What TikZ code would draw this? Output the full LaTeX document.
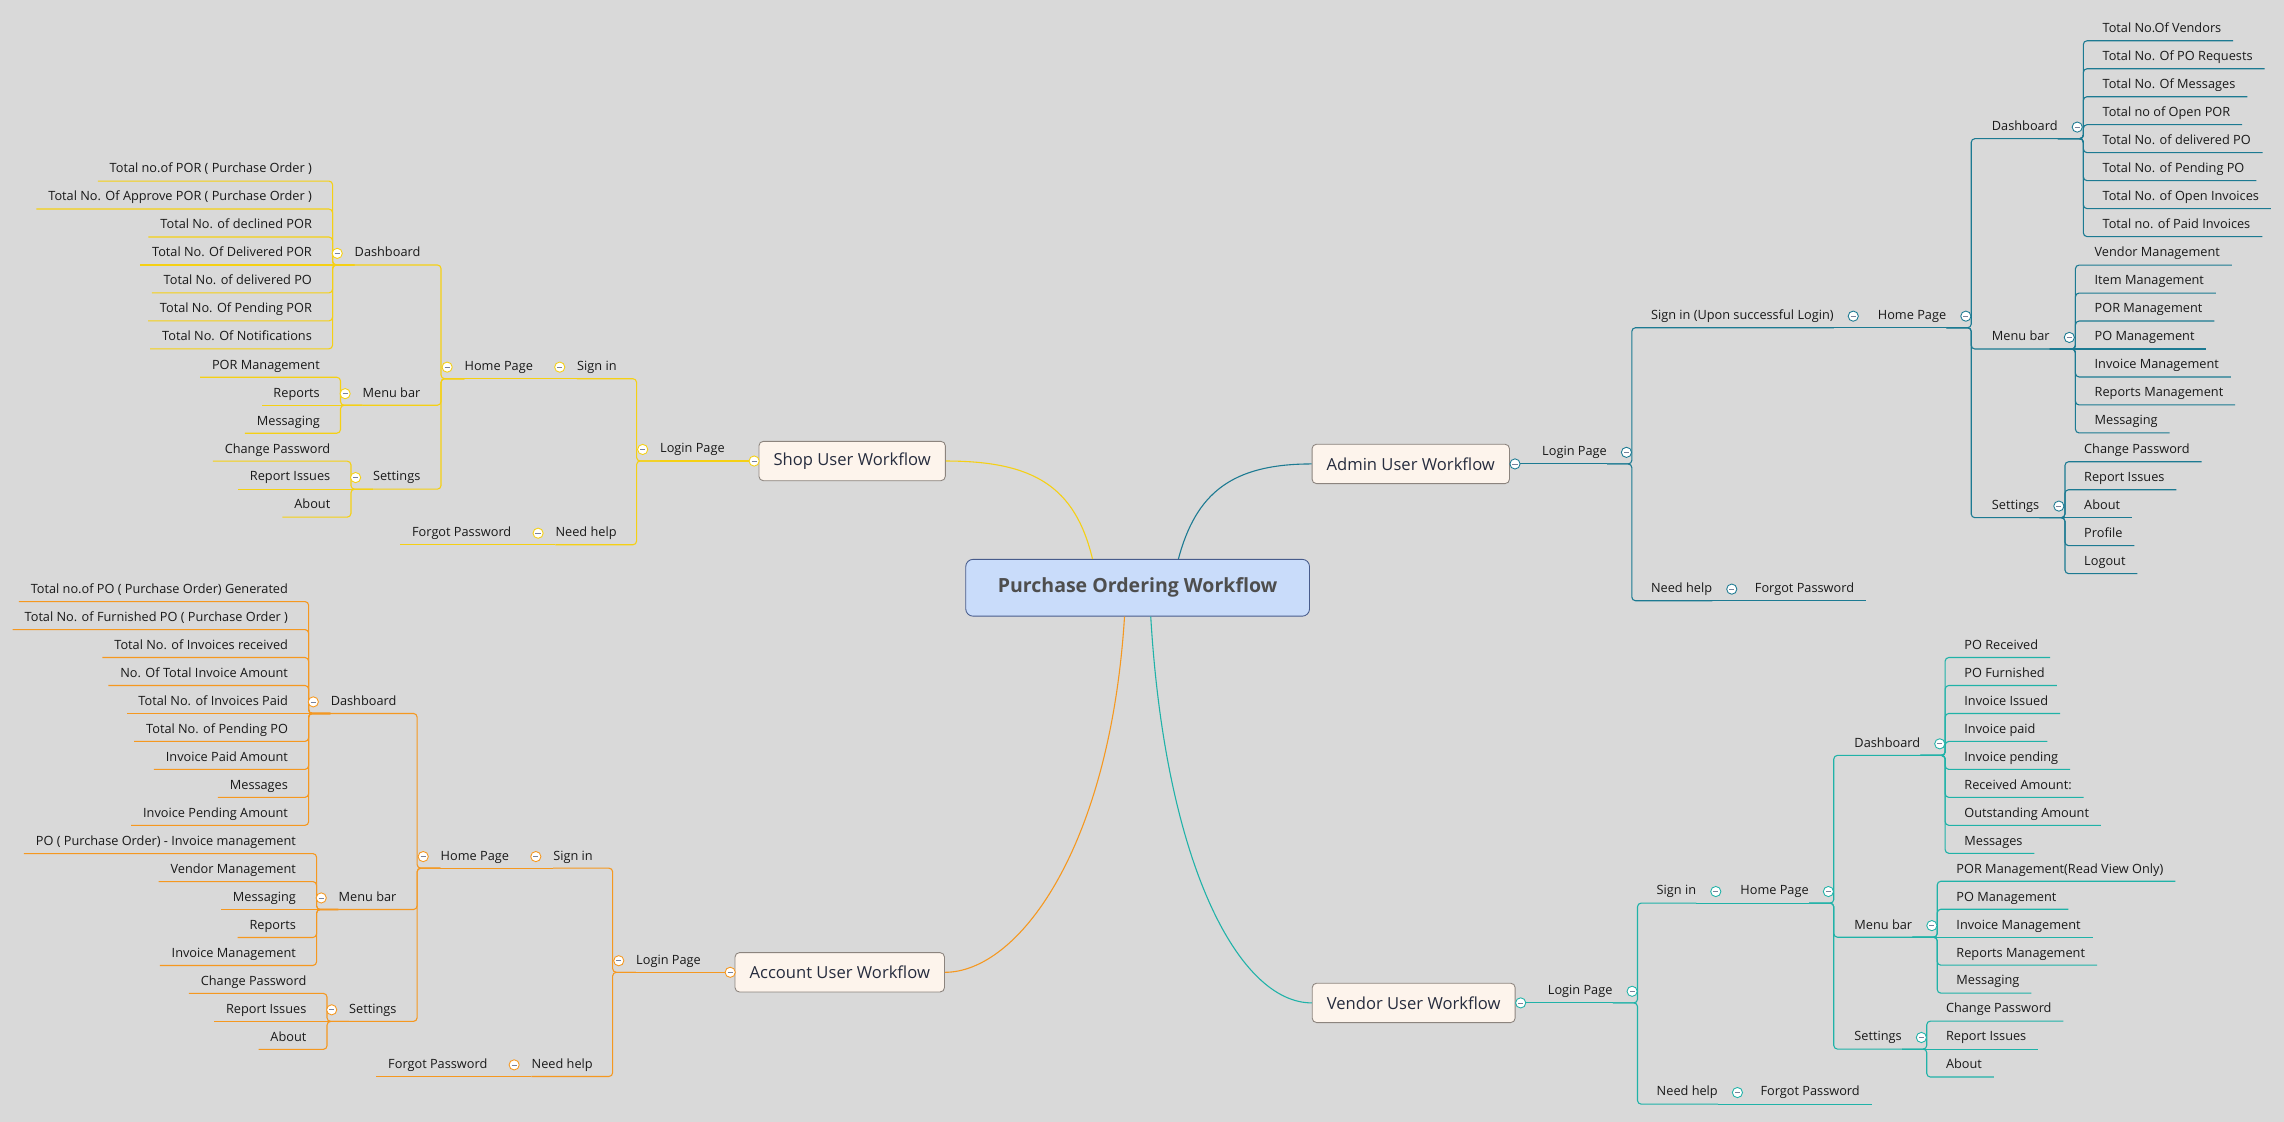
\documentclass[tikz,border=0pt]{standalone}
\usepackage{fontspec}
\setmainfont{Open Sans}
\usepackage{tikz}
\usetikzlibrary{positioning}
\definecolor{bg_gray}{RGB}{217,217,217}
\definecolor{root_fill}{RGB}{201,220,250}
\definecolor{root_line}{RGB}{72,92,140}
\definecolor{root_text}{RGB}{78,78,78}
\definecolor{box_fill}{RGB}{253,244,236}
\definecolor{box_line}{RGB}{140,132,126}
\definecolor{box_text}{RGB}{38,44,62}
\definecolor{topic_text}{RGB}{25,25,25}
\definecolor{shop_gold}{RGB}{245,208,20}
\definecolor{account_orange}{RGB}{245,152,32}
\definecolor{admin_teal}{RGB}{28,122,146}
\definecolor{vendor_teal}{RGB}{32,178,168}
\definecolor{knob_dash}{RGB}{120,130,155}
\tikzstyle{root} = [rectangle, rounded corners=5pt, minimum width=236pt, minimum height=39pt,
                    draw=root_line, fill=root_fill, line width=0.6pt, text=root_text,
                    font=\fontsize{13.4}{16}\selectfont\bfseries]
\tikzstyle{userbox} = [rectangle, rounded corners=3pt, minimum height=27pt, inner xsep=10pt,
                    draw=box_line, fill=box_fill, line width=0.6pt, text=box_text,
                    font=\fontsize{11.4}{14}\selectfont]
\tikzstyle{topic} = [inner xsep=0pt, inner ysep=3.5pt, text height=6.6pt, text depth=1.9pt,
                    text=topic_text, font=\fontsize{8.75}{10}\selectfont]
\tikzstyle{topicr} = [topic, anchor=south west]
\tikzstyle{topicl} = [topic, anchor=south east]
\tikzstyle{leafr} = [topic, anchor=south west, inner xsep=8pt, xshift=5pt]
\tikzstyle{leafl} = [topic, anchor=south east, inner xsep=8pt, xshift=-6pt]
\tikzstyle{knob} = [circle, minimum size=7pt, inner sep=0pt, fill=white, line width=0.6pt,
                    path picture={\draw[knob_dash, line width=0.5pt]
                    ([xshift=-1.8pt]path picture bounding box.center) -- ([xshift=1.8pt]path picture bounding box.center);}]
\tikzstyle{shopknob} = [knob, draw=shop_gold]
\tikzstyle{accknob} = [knob, draw=account_orange]
\tikzstyle{admknob} = [knob, draw=admin_teal]
\tikzstyle{venknob} = [knob, draw=vendor_teal]
\tikzstyle{shopline} = [shop_gold, line width=0.75pt, rounded corners=2.5pt]
\tikzstyle{accline} = [account_orange, line width=0.75pt, rounded corners=2.5pt]
\tikzstyle{admline} = [admin_teal, line width=0.75pt, rounded corners=2.5pt]
\tikzstyle{venline} = [vendor_teal, line width=0.75pt, rounded corners=2.5pt]

\begin{document}
\begin{tikzpicture}[x=1pt, y=-1pt]

    \useasboundingbox[fill=bg_gray] (0,0) rectangle (1568,770);

    % centre and the four workflows
    \node[root] (root) at (781,403.5) {Purchase Ordering Workflow};
    \node[userbox] (shop) at (585,316.5) {Shop User Workflow};
    \node[userbox] (admin) at (968.5,318.5) {Admin User Workflow};
    \node[userbox] (account) at (576.5,667.5) {Account User Workflow};
    \node[userbox] (vendor) at (970.5,688.5) {Vendor User Workflow};

    \draw[shopline] ([xshift=-31pt]root.north) .. controls +(-12,-50) and +(60,0) .. (shop.east);
    \draw[admline] ([xshift=28pt]root.north) .. controls +(12,-45) and +(-55,0) .. (admin.west);
    \draw[accline] ([xshift=-9pt]root.south) .. controls +(-10,160) and +(50,0) .. (account.east);
    \draw[venline] ([xshift=9pt]root.south) .. controls +(10,170) and +(-50,0) .. (vendor.west);

    % shop user workflow
    \node[topicl] (loginS) at ([xshift=-23pt]shop.west) {Login Page};
    \coordinate (loginSj) at ([xshift=-16pt]loginS.south west);
    \node[topicl, xshift=-13.5pt] (signS) at (loginSj |- 0,260) {Sign in};
    \node[topicl] (homeS) at ([xshift=-30pt]signS.south west) {Home Page};
    \coordinate (homeSj) at ([xshift=-16pt]homeS.south west);
    \node[topicl, xshift=-13.5pt] (needS) at (loginSj |- 0,374) {Need help};
    \node[leafl] (forgotS) at ([xshift=-16pt]needS.south west) {Forgot Password};
    \node[topicl, xshift=-14pt] (dashS) at (homeSj |- 0,181.9) {Dashboard};
    \node[topicl, xshift=-14pt] (menuS) at (homeSj |- 0,278.2) {Menu bar};
    \node[topicl, xshift=-14pt] (setS) at (homeSj |- 0,335.8) {Settings};
    \coordinate (dashSj) at ([xshift=-15pt]dashS.south west);
    \coordinate (menuSj) at ([xshift=-15pt]menuS.south west);
    \coordinate (setSj) at ([xshift=-15pt]setS.south west);

    \node[leafl] (dashS1) at (dashSj |- 0,124.3) {Total no.of POR ( Purchase Order )};
    \node[leafl] (dashS2) at (dashSj |- 0,143.5) {Total No. Of Approve POR ( Purchase Order )};
    \node[leafl] (dashS3) at (dashSj |- 0,162.7) {Total No. of declined POR};
    \node[leafl] (dashS4) at (dashSj |- 0,181.9) {Total No. Of Delivered POR};
    \node[leafl] (dashS5) at (dashSj |- 0,201.1) {Total No. of delivered PO};
    \node[leafl] (dashS6) at (dashSj |- 0,220.3) {Total No. Of Pending POR};
    \node[leafl] (dashS7) at (dashSj |- 0,239.5) {Total No. Of Notifications};
    \node[leafl] (menuS1) at (menuSj |- 0,259) {POR Management};
    \node[leafl] (menuS2) at (menuSj |- 0,278.2) {Reports};
    \node[leafl] (menuS3) at (menuSj |- 0,297.4) {Messaging};
    \node[leafl] (setS1) at (setSj |- 0,316.6) {Change Password};
    \node[leafl] (setS2) at (setSj |- 0,335.8) {Report Issues};
    \node[leafl] (setS3) at (setSj |- 0,355) {About};

    \draw[shopline] (shop.west) -- (loginS.south west);
    \draw[shopline] (loginS.south west) -- (loginSj) |- (signS.south east) -- (signS.south west);
    \draw[shopline] (signS.south west) -- (homeS.south west);
    \draw[shopline] (loginS.south west) -- (loginSj) |- (needS.south east) -- (needS.south west);
    \draw[shopline] (needS.south west) -- (forgotS.south west);
    \draw[shopline] (homeS.south west) -- (homeSj) |- (dashS.south east) -- (dashS.south west);
    \draw[shopline] (homeS.south west) -- (homeSj) |- (menuS.south east) -- (menuS.south west);
    \draw[shopline] (homeS.south west) -- (homeSj) |- (setS.south east) -- (setS.south west);
    \draw[shopline] (dashS.south west) -- (dashSj) |- (dashS1.south east) -- (dashS1.south west);
    \draw[shopline] (dashS.south west) -- (dashSj) |- (dashS2.south east) -- (dashS2.south west);
    \draw[shopline] (dashS.south west) -- (dashSj) |- (dashS3.south east) -- (dashS3.south west);
    \draw[shopline] (dashS.south west) -- (dashS4.south west);
    \draw[shopline] (dashS.south west) -- (dashSj) |- (dashS5.south east) -- (dashS5.south west);
    \draw[shopline] (dashS.south west) -- (dashSj) |- (dashS6.south east) -- (dashS6.south west);
    \draw[shopline] (dashS.south west) -- (dashSj) |- (dashS7.south east) -- (dashS7.south west);
    \draw[shopline] (menuS.south west) -- (menuSj) |- (menuS1.south east) -- (menuS1.south west);
    \draw[shopline] (menuS.south west) -- (menuS2.south west);
    \draw[shopline] (menuS.south west) -- (menuSj) |- (menuS3.south east) -- (menuS3.south west);
    \draw[shopline] (setS.south west) -- (setSj) |- (setS1.south east) -- (setS1.south west);
    \draw[shopline] (setS.south west) -- (setS2.south west);
    \draw[shopline] (setS.south west) -- (setSj) |- (setS3.south east) -- (setS3.south west);

    \node[shopknob] (shopK) at ([xshift=-3pt]shop.west) {};
    \node[shopknob, left=8pt of loginS] (loginSk) {};
    \node[shopknob, left=8pt of signS] (signSk) {};
    \node[shopknob, left=8pt of homeS] (homeSk) {};
    \node[shopknob, left=8pt of needS] (needSk) {};
    \node[shopknob, left=8pt of dashS] (dashSk) {};
    \node[shopknob, left=8pt of menuS] (menuSk) {};
    \node[shopknob, left=8pt of setS] (setSk) {};

    % account user workflow
    \node[topicl] (loginC) at ([xshift=-23pt]account.west) {Login Page};
    \coordinate (loginCj) at ([xshift=-16pt]loginC.south west);
    \node[topicl, xshift=-13.5pt] (signC) at (loginCj |- 0,596) {Sign in};
    \node[topicl] (homeC) at ([xshift=-30pt]signC.south west) {Home Page};
    \coordinate (homeCj) at ([xshift=-16pt]homeC.south west);
    \node[topicl, xshift=-13.5pt] (needC) at (loginCj |- 0,739) {Need help};
    \node[leafl] (forgotC) at ([xshift=-16pt]needC.south west) {Forgot Password};
    \node[topicl, xshift=-14pt] (dashC) at (homeCj |- 0,489.8) {Dashboard};
    \node[topicl, xshift=-14pt] (menuC) at (homeCj |- 0,624.4) {Menu bar};
    \node[topicl, xshift=-14pt] (setC) at (homeCj |- 0,701.2) {Settings};
    \coordinate (dashCj) at ([xshift=-15pt]dashC.south west);
    \coordinate (menuCj) at ([xshift=-15pt]menuC.south west);
    \coordinate (setCj) at ([xshift=-15pt]setC.south west);

    \node[leafl] (dashC1) at (dashCj |- 0,413) {Total no.of PO ( Purchase Order) Generated};
    \node[leafl] (dashC2) at (dashCj |- 0,432.2) {Total No. of Furnished PO ( Purchase Order )};
    \node[leafl] (dashC3) at (dashCj |- 0,451.4) {Total No. of Invoices received};
    \node[leafl] (dashC4) at (dashCj |- 0,470.6) {No. Of Total Invoice Amount};
    \node[leafl] (dashC5) at (dashCj |- 0,489.8) {Total No. of Invoices Paid};
    \node[leafl] (dashC6) at (dashCj |- 0,509) {Total No. of Pending PO};
    \node[leafl] (dashC7) at (dashCj |- 0,528.2) {Invoice Paid Amount};
    \node[leafl] (dashC8) at (dashCj |- 0,547.4) {Messages};
    \node[leafl] (dashC9) at (dashCj |- 0,566.6) {Invoice Pending Amount};
    \node[leafl] (menuC1) at (menuCj |- 0,586) {PO ( Purchase Order) - Invoice management};
    \node[leafl] (menuC2) at (menuCj |- 0,605.2) {Vendor Management};
    \node[leafl] (menuC3) at (menuCj |- 0,624.4) {Messaging};
    \node[leafl] (menuC4) at (menuCj |- 0,643.6) {Reports};
    \node[leafl] (menuC5) at (menuCj |- 0,662.8) {Invoice Management};
    \node[leafl] (setC1) at (setCj |- 0,682) {Change Password};
    \node[leafl] (setC2) at (setCj |- 0,701.2) {Report Issues};
    \node[leafl] (setC3) at (setCj |- 0,720.4) {About};

    \draw[accline] (account.west) -- (loginC.south west);
    \draw[accline] (loginC.south west) -- (loginCj) |- (signC.south east) -- (signC.south west);
    \draw[accline] (signC.south west) -- (homeC.south west);
    \draw[accline] (loginC.south west) -- (loginCj) |- (needC.south east) -- (needC.south west);
    \draw[accline] (needC.south west) -- (forgotC.south west);
    \draw[accline] (homeC.south west) -- (homeCj) |- (dashC.south east) -- (dashC.south west);
    \draw[accline] (homeC.south west) -- (homeCj) |- (menuC.south east) -- (menuC.south west);
    \draw[accline] (homeC.south west) -- (homeCj) |- (setC.south east) -- (setC.south west);
    \draw[accline] (dashC.south west) -- (dashCj) |- (dashC1.south east) -- (dashC1.south west);
    \draw[accline] (dashC.south west) -- (dashCj) |- (dashC2.south east) -- (dashC2.south west);
    \draw[accline] (dashC.south west) -- (dashCj) |- (dashC3.south east) -- (dashC3.south west);
    \draw[accline] (dashC.south west) -- (dashCj) |- (dashC4.south east) -- (dashC4.south west);
    \draw[accline] (dashC.south west) -- (dashC5.south west);
    \draw[accline] (dashC.south west) -- (dashCj) |- (dashC6.south east) -- (dashC6.south west);
    \draw[accline] (dashC.south west) -- (dashCj) |- (dashC7.south east) -- (dashC7.south west);
    \draw[accline] (dashC.south west) -- (dashCj) |- (dashC8.south east) -- (dashC8.south west);
    \draw[accline] (dashC.south west) -- (dashCj) |- (dashC9.south east) -- (dashC9.south west);
    \draw[accline] (menuC.south west) -- (menuCj) |- (menuC1.south east) -- (menuC1.south west);
    \draw[accline] (menuC.south west) -- (menuCj) |- (menuC2.south east) -- (menuC2.south west);
    \draw[accline] (menuC.south west) -- (menuC3.south west);
    \draw[accline] (menuC.south west) -- (menuCj) |- (menuC4.south east) -- (menuC4.south west);
    \draw[accline] (menuC.south west) -- (menuCj) |- (menuC5.south east) -- (menuC5.south west);
    \draw[accline] (setC.south west) -- (setCj) |- (setC1.south east) -- (setC1.south west);
    \draw[accline] (setC.south west) -- (setC2.south west);
    \draw[accline] (setC.south west) -- (setCj) |- (setC3.south east) -- (setC3.south west);

    \node[accknob] (accountK) at ([xshift=-3pt]account.west) {};
    \node[accknob, left=8pt of loginC] (loginCk) {};
    \node[accknob, left=8pt of signC] (signCk) {};
    \node[accknob, left=8pt of homeC] (homeCk) {};
    \node[accknob, left=8pt of needC] (needCk) {};
    \node[accknob, left=8pt of dashC] (dashCk) {};
    \node[accknob, left=8pt of menuC] (menuCk) {};
    \node[accknob, left=8pt of setC] (setCk) {};

    % admin user workflow
    \node[topicr] (loginA) at ([xshift=22pt]admin.east) {Login Page};
    \coordinate (loginAj) at ([xshift=17pt]loginA.south east);
    \node[topicr, xshift=13pt] (signA) at (loginAj |- 0,225) {Sign in (Upon successful Login)};
    \node[topicr] (homeA) at ([xshift=30pt]signA.south east) {Home Page};
    \coordinate (homeAj) at ([xshift=17pt]homeA.south east);
    \node[topicr, xshift=13pt] (needA) at (loginAj |- 0,412.4) {Need help};
    \node[leafr] (forgotA) at ([xshift=16pt]needA.south east) {Forgot Password};
    \node[topicr, xshift=14pt] (dashA) at (homeAj |- 0,95.2) {Dashboard};
    \node[topicr, xshift=14pt] (menuA) at (homeAj |- 0,239.6) {Menu bar};
    \node[topicr, xshift=14pt] (setA) at (homeAj |- 0,355.4) {Settings};
    \coordinate (dashAj) at ([xshift=17.5pt]dashA.south east);
    \coordinate (menuAj) at ([xshift=17.5pt]menuA.south east);
    \coordinate (setAj) at ([xshift=17.5pt]setA.south east);

    \node[leafr] (dashA1) at (dashAj |- 0,28) {Total No.Of Vendors};
    \node[leafr] (dashA2) at (dashAj |- 0,47.2) {Total No. Of PO Requests};
    \node[leafr] (dashA3) at (dashAj |- 0,66.4) {Total No. Of Messages};
    \node[leafr] (dashA4) at (dashAj |- 0,85.6) {Total no of Open POR};
    \node[leafr] (dashA5) at (dashAj |- 0,104.8) {Total No. of delivered PO};
    \node[leafr] (dashA6) at (dashAj |- 0,124) {Total No. of Pending PO};
    \node[leafr] (dashA7) at (dashAj |- 0,143.2) {Total No. of Open Invoices};
    \node[leafr] (dashA8) at (dashAj |- 0,162.4) {Total no. of Paid Invoices};
    \node[leafr] (menuA1) at (menuAj |- 0,182) {Vendor Management};
    \node[leafr] (menuA2) at (menuAj |- 0,201.2) {Item Management};
    \node[leafr] (menuA3) at (menuAj |- 0,220.4) {POR Management};
    \node[leafr] (menuA4) at (menuAj |- 0,239.6) {PO Management};
    \node[leafr] (menuA5) at (menuAj |- 0,258.8) {Invoice Management};
    \node[leafr] (menuA6) at (menuAj |- 0,278) {Reports Management};
    \node[leafr] (menuA7) at (menuAj |- 0,297.2) {Messaging};
    \node[leafr] (setA1) at (setAj |- 0,317) {Change Password};
    \node[leafr] (setA2) at (setAj |- 0,336.2) {Report Issues};
    \node[leafr] (setA3) at (setAj |- 0,355.4) {About};
    \node[leafr] (setA4) at (setAj |- 0,374.6) {Profile};
    \node[leafr] (setA5) at (setAj |- 0,393.8) {Logout};

    \draw[admline] (admin.east) -- (loginA.south east);
    \draw[admline] (loginA.south east) -- (loginAj) |- (signA.south west) -- (signA.south east);
    \draw[admline] (signA.south east) -- (homeA.south east);
    \draw[admline] (loginA.south east) -- (loginAj) |- (needA.south west) -- (needA.south east);
    \draw[admline] (needA.south east) -- (forgotA.south east);
    \draw[admline] (homeA.south east) -- (homeAj) |- (dashA.south west) -- (dashA.south east);
    \draw[admline] (homeA.south east) -- (homeAj) |- (menuA.south west) -- (menuA.south east);
    \draw[admline] (homeA.south east) -- (homeAj) |- (setA.south west) -- (setA.south east);
    \draw[admline] (dashA.south east) -- (dashAj) |- (dashA1.south west) -- (dashA1.south east);
    \draw[admline] (dashA.south east) -- (dashAj) |- (dashA2.south west) -- (dashA2.south east);
    \draw[admline] (dashA.south east) -- (dashAj) |- (dashA3.south west) -- (dashA3.south east);
    \draw[admline] (dashA.south east) -- (dashAj) |- (dashA4.south west) -- (dashA4.south east);
    \draw[admline] (dashA.south east) -- (dashAj) |- (dashA5.south west) -- (dashA5.south east);
    \draw[admline] (dashA.south east) -- (dashAj) |- (dashA6.south west) -- (dashA6.south east);
    \draw[admline] (dashA.south east) -- (dashAj) |- (dashA7.south west) -- (dashA7.south east);
    \draw[admline] (dashA.south east) -- (dashAj) |- (dashA8.south west) -- (dashA8.south east);
    \draw[admline] (menuA.south east) -- (menuAj) |- (menuA1.south west) -- (menuA1.south east);
    \draw[admline] (menuA.south east) -- (menuAj) |- (menuA2.south west) -- (menuA2.south east);
    \draw[admline] (menuA.south east) -- (menuAj) |- (menuA3.south west) -- (menuA3.south east);
    \draw[admline] (menuA.south east) -- (menuA4.south east);
    \draw[admline] (menuA.south east) -- (menuAj) |- (menuA5.south west) -- (menuA5.south east);
    \draw[admline] (menuA.south east) -- (menuAj) |- (menuA6.south west) -- (menuA6.south east);
    \draw[admline] (menuA.south east) -- (menuAj) |- (menuA7.south west) -- (menuA7.south east);
    \draw[admline] (setA.south east) -- (setAj) |- (setA1.south west) -- (setA1.south east);
    \draw[admline] (setA.south east) -- (setAj) |- (setA2.south west) -- (setA2.south east);
    \draw[admline] (setA.south east) -- (setA3.south east);
    \draw[admline] (setA.south east) -- (setAj) |- (setA4.south west) -- (setA4.south east);
    \draw[admline] (setA.south east) -- (setAj) |- (setA5.south west) -- (setA5.south east);

    \node[admknob] (adminK) at ([xshift=3.5pt]admin.east) {};
    \node[admknob, right=9.5pt of loginA] (loginAk) {};
    \node[admknob, right=9.5pt of signA] (signAk) {};
    \node[admknob, right=9.5pt of homeA] (homeAk) {};
    \node[admknob, right=9.5pt of needA] (needAk) {};
    \node[admknob, right=9.5pt of dashA] (dashAk) {};
    \node[admknob, right=9.5pt of menuA] (menuAk) {};
    \node[admknob, right=9.5pt of setA] (setAk) {};

    % vendor user workflow
    \node[topicr] (loginV) at ([xshift=22pt]vendor.east) {Login Page};
    \coordinate (loginVj) at ([xshift=17pt]loginV.south east);
    \node[topicr, xshift=13pt] (signV) at (loginVj |- 0,620) {Sign in};
    \node[topicr] (homeV) at ([xshift=30pt]signV.south east) {Home Page};
    \coordinate (homeVj) at ([xshift=17pt]homeV.south east);
    \node[topicr, xshift=13pt] (needV) at (loginVj |- 0,758) {Need help};
    \node[leafr] (forgotV) at ([xshift=16pt]needV.south east) {Forgot Password};
    \node[topicr, xshift=14pt] (dashV) at (homeVj |- 0,518.6) {Dashboard};
    \node[topicr, xshift=14pt] (menuV) at (homeVj |- 0,643.4) {Menu bar};
    \node[topicr, xshift=14pt] (setV) at (homeVj |- 0,720.2) {Settings};
    \coordinate (dashVj) at ([xshift=17pt]dashV.south east);
    \coordinate (menuVj) at ([xshift=17pt]menuV.south east);
    \coordinate (setVj) at ([xshift=17pt]setV.south east);

    \node[leafr] (dashV1) at (dashVj |- 0,451.4) {PO Received};
    \node[leafr] (dashV2) at (dashVj |- 0,470.6) {PO Furnished};
    \node[leafr] (dashV3) at (dashVj |- 0,489.8) {Invoice Issued};
    \node[leafr] (dashV4) at (dashVj |- 0,509) {Invoice paid};
    \node[leafr] (dashV5) at (dashVj |- 0,528.2) {Invoice pending};
    \node[leafr] (dashV6) at (dashVj |- 0,547.4) {Received Amount:};
    \node[leafr] (dashV7) at (dashVj |- 0,566.6) {Outstanding Amount};
    \node[leafr] (dashV8) at (dashVj |- 0,585.8) {Messages};
    \node[leafr] (menuV1) at (menuVj |- 0,605) {POR Management(Read View Only)};
    \node[leafr] (menuV2) at (menuVj |- 0,624.2) {PO Management};
    \node[leafr] (menuV3) at (menuVj |- 0,643.4) {Invoice Management};
    \node[leafr] (menuV4) at (menuVj |- 0,662.6) {Reports Management};
    \node[leafr] (menuV5) at (menuVj |- 0,681.8) {Messaging};
    \node[leafr] (setV1) at (setVj |- 0,701) {Change Password};
    \node[leafr] (setV2) at (setVj |- 0,720.2) {Report Issues};
    \node[leafr] (setV3) at (setVj |- 0,739.4) {About};

    \draw[venline] (vendor.east) -- (loginV.south east);
    \draw[venline] (loginV.south east) -- (loginVj) |- (signV.south west) -- (signV.south east);
    \draw[venline] (signV.south east) -- (homeV.south east);
    \draw[venline] (loginV.south east) -- (loginVj) |- (needV.south west) -- (needV.south east);
    \draw[venline] (needV.south east) -- (forgotV.south east);
    \draw[venline] (homeV.south east) -- (homeVj) |- (dashV.south west) -- (dashV.south east);
    \draw[venline] (homeV.south east) -- (homeVj) |- (menuV.south west) -- (menuV.south east);
    \draw[venline] (homeV.south east) -- (homeVj) |- (setV.south west) -- (setV.south east);
    \draw[venline] (dashV.south east) -- (dashVj) |- (dashV1.south west) -- (dashV1.south east);
    \draw[venline] (dashV.south east) -- (dashVj) |- (dashV2.south west) -- (dashV2.south east);
    \draw[venline] (dashV.south east) -- (dashVj) |- (dashV3.south west) -- (dashV3.south east);
    \draw[venline] (dashV.south east) -- (dashVj) |- (dashV4.south west) -- (dashV4.south east);
    \draw[venline] (dashV.south east) -- (dashVj) |- (dashV5.south west) -- (dashV5.south east);
    \draw[venline] (dashV.south east) -- (dashVj) |- (dashV6.south west) -- (dashV6.south east);
    \draw[venline] (dashV.south east) -- (dashVj) |- (dashV7.south west) -- (dashV7.south east);
    \draw[venline] (dashV.south east) -- (dashVj) |- (dashV8.south west) -- (dashV8.south east);
    \draw[venline] (menuV.south east) -- (menuVj) |- (menuV1.south west) -- (menuV1.south east);
    \draw[venline] (menuV.south east) -- (menuVj) |- (menuV2.south west) -- (menuV2.south east);
    \draw[venline] (menuV.south east) -- (menuV3.south east);
    \draw[venline] (menuV.south east) -- (menuVj) |- (menuV4.south west) -- (menuV4.south east);
    \draw[venline] (menuV.south east) -- (menuVj) |- (menuV5.south west) -- (menuV5.south east);
    \draw[venline] (setV.south east) -- (setVj) |- (setV1.south west) -- (setV1.south east);
    \draw[venline] (setV.south east) -- (setV2.south east);
    \draw[venline] (setV.south east) -- (setVj) |- (setV3.south west) -- (setV3.south east);

    \node[venknob] (vendorK) at ([xshift=3.5pt]vendor.east) {};
    \node[venknob, right=9.5pt of loginV] (loginVk) {};
    \node[venknob, right=9.5pt of signV] (signVk) {};
    \node[venknob, right=9.5pt of homeV] (homeVk) {};
    \node[venknob, right=9.5pt of needV] (needVk) {};
    \node[venknob, right=9.5pt of dashV] (dashVk) {};
    \node[venknob, right=9.5pt of menuV] (menuVk) {};
    \node[venknob, right=9.5pt of setV] (setVk) {};

\end{tikzpicture}
\end{document}
